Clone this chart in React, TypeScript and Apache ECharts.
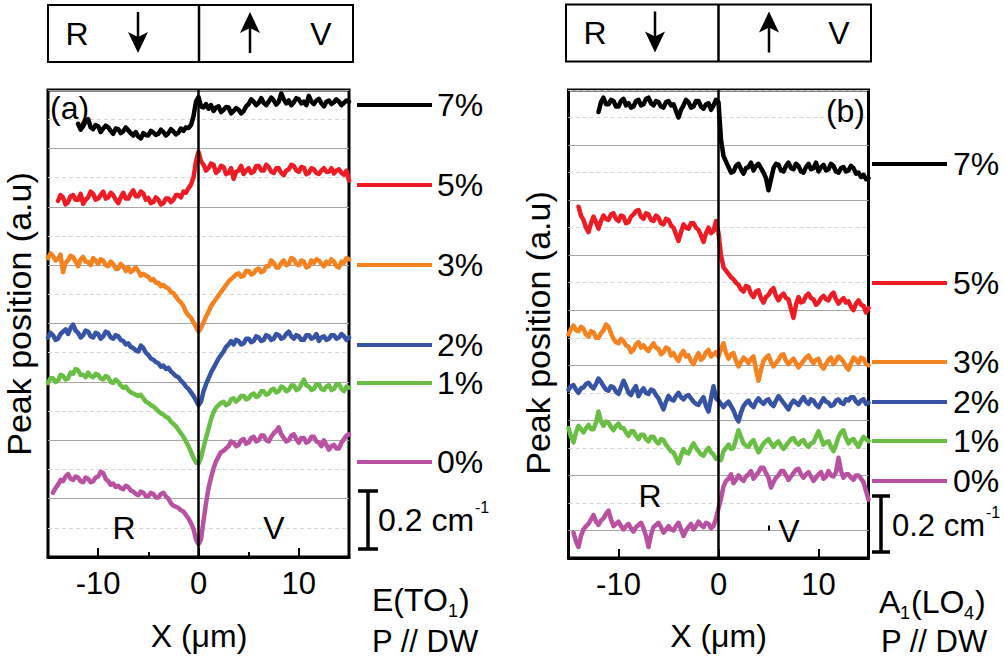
import React, { useEffect, useRef } from "react";
import * as echarts from "echarts";

// Position across the domain wall, micrometres (0.25 um steps)
const X_UM = [
  -15, -14.75, -14.5, -14.25, -14, -13.75, -13.5, -13.25, -13, -12.75, -12.5, -12.25,
  -12, -11.75, -11.5, -11.25, -11, -10.75, -10.5, -10.25, -10, -9.75, -9.5, -9.25,
  -9, -8.75, -8.5, -8.25, -8, -7.75, -7.5, -7.25, -7, -6.75, -6.5, -6.25,
  -6, -5.75, -5.5, -5.25, -5, -4.75, -4.5, -4.25, -4, -3.75, -3.5, -3.25,
  -3, -2.75, -2.5, -2.25, -2, -1.75, -1.5, -1.25, -1, -0.75, -0.5, -0.25,
  0, 0.25, 0.5, 0.75, 1, 1.25, 1.5, 1.75, 2, 2.25, 2.5, 2.75,
  3, 3.25, 3.5, 3.75, 4, 4.25, 4.5, 4.75, 5, 5.25, 5.5, 5.75,
  6, 6.25, 6.5, 6.75, 7, 7.25, 7.5, 7.75, 8, 8.25, 8.5, 8.75,
  9, 9.25, 9.5, 9.75, 10, 10.25, 10.5, 10.75, 11, 11.25, 11.5, 11.75,
  12, 12.25, 12.5, 12.75, 13, 13.25, 13.5, 13.75, 14, 14.25, 14.5, 14.75,
  15,
];

const LABELS = ["7%", "5%", "3%", "2%", "1%", "0%"];
const COLORS = ["#000000", "#ed1c24", "#f58220", "#3953a4", "#6abd45", "#b8519f"];
const TICKS_MAJOR = [-10, 0, 10];
const TICKS_MINOR = [-5, 5];

// Panel (a) E(TO1): peak position in grid units (1 unit = 0.2 cm-1)
const A_7 = [
  null, null, null, null, null, null, null, null, null, null, null, null,
  7.42, 7.32, 7.38, 7.46, 7.50, 7.36, 7.33, 7.40, 7.38, 7.28, 7.34, 7.39,
  7.36, 7.30, 7.25, 7.34, 7.33, 7.26, 7.29, 7.36, 7.31, 7.26, 7.22, 7.28,
  7.20, 7.17, 7.26, 7.23, 7.22, 7.30, 7.27, 7.23, 7.25, 7.32, 7.28, 7.22,
  7.26, 7.33, 7.29, 7.24, 7.27, 7.34, 7.30, 7.36, 7.35, 7.40, 7.55, 7.80,
  7.88, 7.72, 7.70, 7.76, 7.68, 7.74, 7.64, 7.70, 7.72, 7.62, 7.66, 7.71,
  7.70, 7.60, 7.64, 7.69, 7.66, 7.60, 7.64, 7.72, 7.76, 7.84, 7.80, 7.74,
  7.78, 7.86, 7.78, 7.74, 7.80, 7.87, 7.82, 7.75, 7.80, 7.94, 7.84, 7.77,
  7.82, 7.74, 7.79, 7.86, 7.84, 7.77, 7.80, 7.74, 7.90, 7.80, 7.76, 7.82,
  7.85, 7.77, 7.72, 7.80, 7.82, 7.76, 7.79, 7.84, 7.80, 7.74, 7.78, 7.82,
  7.80,
];
const A_5 = [
  null, null, null, null, 6.10, 6.20, 6.16, 6.04, 6.08, 6.18, 6.20, 6.12,
  6.12, 6.22, 6.05, 6.12, 6.16, 6.26, 6.22, 6.12, 6.14, 6.20, 6.26, 6.14,
  6.16, 6.24, 6.20, 6.12, 6.06, 6.16, 6.24, 6.14, 6.14, 6.22, 6.28, 6.18,
  6.18, 6.26, 6.23, 6.12, 6.15, 6.06, 6.08, 6.16, 6.12, 6.04, 6.06, 6.14,
  6.14, 6.08, 6.12, 6.20, 6.20, 6.16, 6.26, 6.24, 6.32, 6.38, 6.50, 6.78,
  6.94, 6.78, 6.72, 6.62, 6.66, 6.74, 6.72, 6.58, 6.62, 6.70, 6.68, 6.56,
  6.58, 6.66, 6.48, 6.60, 6.62, 6.70, 6.56, 6.62, 6.66, 6.58, 6.60, 6.70,
  6.70, 6.62, 6.62, 6.72, 6.68, 6.60, 6.58, 6.66, 6.66, 6.58, 6.54, 6.62,
  6.64, 6.72, 6.70, 6.62, 6.60, 6.68, 6.67, 6.56, 6.58, 6.66, 6.64, 6.58,
  6.56, 6.62, 6.66, 6.60, 6.60, 6.66, 6.57, 6.62, 6.64, 6.58, 6.55, 6.62,
  6.45,
];
const A_3 = [
  5.12, 5.20, 5.16, 5.08, 5.10, 5.18, 4.88, 5.04, 5.08, 5.16, 5.14, 5.06,
  4.98, 5.10, 5.14, 5.06, 5.05, 5.00, 5.12, 5.08, 5.02, 5.10, 5.08, 5.00,
  4.98, 5.06, 5.02, 4.94, 4.94, 5.02, 4.98, 4.90, 4.96, 4.88, 4.92, 4.96,
  4.90, 4.82, 4.85, 4.82, 4.80, 4.74, 4.76, 4.70, 4.70, 4.64, 4.66, 4.62,
  4.60, 4.54, 4.52, 4.46, 4.40, 4.36, 4.30, 4.20, 4.14, 4.10, 4.02, 3.94,
  3.86, 3.92, 4.02, 4.12, 4.20, 4.30, 4.36, 4.42, 4.48, 4.54, 4.60, 4.66,
  4.72, 4.76, 4.80, 4.84, 4.86, 4.80, 4.82, 4.90, 4.90, 4.84, 4.86, 4.92,
  4.94, 4.88, 4.90, 4.98, 4.98, 5.08, 5.04, 4.96, 4.96, 5.04, 5.08, 5.00,
  5.02, 5.12, 5.10, 5.02, 5.00, 5.08, 5.06, 4.96, 4.98, 5.08, 5.04, 5.10,
  5.08, 5.02, 4.98, 5.06, 5.02, 5.10, 5.06, 4.98, 4.96, 5.06, 5.04, 5.12,
  5.10,
];
const A_2 = [
  3.76, 3.84, 3.80, 3.72, 3.74, 3.82, 3.86, 3.90, 3.82, 3.92, 3.98, 3.88,
  3.84, 3.76, 3.80, 3.88, 3.86, 3.78, 3.76, 3.84, 3.82, 3.74, 3.78, 3.86,
  3.84, 3.76, 3.74, 3.80, 3.78, 3.72, 3.70, 3.64, 3.66, 3.60, 3.58, 3.54,
  3.52, 3.62, 3.58, 3.50, 3.46, 3.40, 3.38, 3.34, 3.32, 3.26, 3.28, 3.22,
  3.24, 3.18, 3.14, 3.10, 3.08, 3.02, 2.98, 2.92, 2.88, 2.82, 2.76, 2.68,
  2.60, 2.66, 2.84, 2.96, 3.06, 3.16, 3.24, 3.32, 3.40, 3.46, 3.52, 3.60,
  3.64, 3.70, 3.64, 3.72, 3.70, 3.64, 3.66, 3.74, 3.74, 3.68, 3.70, 3.78,
  3.76, 3.70, 3.72, 3.80, 3.78, 3.72, 3.74, 3.82, 3.80, 3.74, 3.76, 3.82,
  3.86, 3.78, 3.74, 3.80, 3.78, 3.72, 3.72, 3.80, 3.80, 3.74, 3.76, 3.82,
  3.70, 3.76, 3.78, 3.72, 3.74, 3.80, 3.80, 3.74, 3.76, 3.82, 3.78, 3.72,
  3.76,
];
const A_1 = [
  2.98, 3.06, 3.06, 3.00, 3.02, 3.12, 3.10, 3.04, 3.06, 3.16, 3.14, 3.22,
  3.20, 3.12, 3.12, 3.08, 3.16, 3.10, 3.08, 3.14, 3.12, 3.06, 3.04, 3.10,
  3.08, 3.00, 2.98, 3.04, 3.00, 2.94, 2.90, 2.92, 2.86, 2.82, 2.80, 2.78,
  2.76, 2.78, 2.72, 2.66, 2.64, 2.60, 2.58, 2.54, 2.50, 2.46, 2.44, 2.40,
  2.38, 2.32, 2.28, 2.24, 2.18, 2.12, 2.06, 1.98, 1.90, 1.80, 1.70, 1.62,
  1.60, 1.70, 1.88, 2.04, 2.20, 2.36, 2.48, 2.56, 2.60, 2.64, 2.66, 2.60,
  2.62, 2.70, 2.72, 2.66, 2.70, 2.76, 2.76, 2.70, 2.72, 2.78, 2.80, 2.74,
  2.76, 2.84, 2.84, 2.78, 2.80, 2.86, 2.88, 2.82, 2.84, 2.92, 2.90, 2.84,
  2.86, 2.94, 2.94, 2.86, 2.88, 2.96, 3.04, 2.94, 2.92, 2.86, 2.88, 2.96,
  2.96, 2.88, 2.86, 2.92, 2.94, 2.86, 2.88, 2.96, 2.96, 2.88, 2.84, 2.92,
  2.90,
];
const A_0 = [
  null, null, 1.10, 1.18, 1.24, 1.32, 1.30, 1.38, 1.42, 1.34, 1.32, 1.38,
  1.36, 1.30, 1.28, 1.36, 1.34, 1.28, 1.30, 1.36, 1.38, 1.46, 1.44, 1.34,
  1.30, 1.24, 1.26, 1.20, 1.22, 1.18, 1.16, 1.22, 1.20, 1.14, 1.12, 1.08,
  1.06, 1.12, 1.10, 1.04, 1.04, 1.10, 1.08, 1.02, 1.02, 1.08, 1.10, 1.04,
  1.00, 0.92, 0.88, 0.86, 0.84, 0.80, 0.78, 0.72, 0.66, 0.58, 0.48, 0.30,
  0.22, 0.30, 0.62, 0.92, 1.18, 1.36, 1.52, 1.64, 1.72, 1.80, 1.82, 1.86,
  1.90, 1.98, 1.96, 1.90, 1.92, 2.00, 2.02, 1.94, 1.96, 2.04, 2.06, 1.98,
  2.00, 2.08, 2.08, 2.00, 1.98, 2.06, 2.12, 2.16, 2.22, 2.10, 2.04, 1.98,
  2.00, 2.08, 2.10, 2.02, 1.96, 2.04, 2.04, 1.96, 1.98, 2.06, 2.06, 1.98,
  1.96, 1.90, 2.00, 1.92, 1.84, 1.90, 1.92, 1.86, 1.86, 1.96, 2.02, 2.08,
  2.10,
];

// Panel (b) A1(LO4)
const B_7 = [
  null, null, null, null, null, null, null, null, null, null, null, null,
  7.60, 7.78, 7.86, 7.74, 7.74, 7.82, 7.80, 7.70, 7.70, 7.80, 7.84, 7.72,
  7.76, 7.68, 7.70, 7.80, 7.82, 7.72, 7.74, 7.84, 7.86, 7.76, 7.72, 7.80,
  7.78, 7.70, 7.68, 7.78, 7.80, 7.72, 7.74, 7.62, 7.50, 7.64, 7.72, 7.82,
  7.78, 7.68, 7.70, 7.80, 7.80, 7.70, 7.66, 7.74, 7.76, 7.64, 7.72, 7.82,
  7.78, 7.10, 6.80, 6.70, 6.60, 6.50, 6.52, 6.62, 6.66, 6.56, 6.48, 6.58,
  6.60, 6.68, 6.54, 6.62, 6.66, 6.58, 6.50, 6.40, 6.18, 6.38, 6.58, 6.66,
  6.64, 6.54, 6.52, 6.62, 6.68, 6.58, 6.56, 6.66, 6.62, 6.52, 6.50, 6.60,
  6.66, 6.56, 6.58, 6.68, 6.52, 6.60, 6.64, 6.54, 6.56, 6.66, 6.62, 6.52,
  6.50, 6.58, 6.60, 6.52, 6.54, 6.62, 6.58, 6.48, 6.50, 6.42, 6.46, 6.38,
  6.40,
];
const B_5 = [
  null, null, null, null, 5.88, 5.72, 5.64, 5.50, 5.42, 5.58, 5.70, 5.60,
  5.48, 5.62, 5.72, 5.66, 5.64, 5.74, 5.76, 5.66, 5.62, 5.72, 5.70, 5.58,
  5.60, 5.70, 5.74, 5.80, 5.82, 5.70, 5.66, 5.76, 5.74, 5.64, 5.62, 5.72,
  5.68, 5.58, 5.56, 5.66, 5.64, 5.54, 5.50, 5.38, 5.26, 5.42, 5.56, 5.50,
  5.48, 5.58, 5.58, 5.50, 5.46, 5.36, 5.24, 5.40, 5.50, 5.40, 5.44, 5.62,
  5.40, 5.00, 4.78, 4.72, 4.66, 4.60, 4.56, 4.50, 4.46, 4.38, 4.34, 4.44,
  4.42, 4.30, 4.24, 4.34, 4.36, 4.22, 4.14, 4.24, 4.28, 4.36, 4.40, 4.26,
  4.18, 4.26, 4.30, 4.22, 4.20, 4.02, 3.86, 4.10, 4.24, 4.14, 4.16, 4.26,
  4.30, 4.22, 4.20, 4.10, 4.14, 4.22, 4.26, 4.20, 4.18, 4.28, 4.32, 4.20,
  4.12, 4.18, 4.22, 4.14, 4.16, 4.06, 4.00, 4.12, 4.18, 4.10, 4.08, 3.96,
  4.04,
];
const B_3 = [
  3.56, 3.66, 3.72, 3.64, 3.62, 3.70, 3.66, 3.56, 3.52, 3.62, 3.60, 3.50,
  3.50, 3.58, 3.64, 3.74, 3.70, 3.58, 3.48, 3.42, 3.40, 3.48, 3.44, 3.36,
  3.34, 3.24, 3.28, 3.38, 3.42, 3.32, 3.36, 3.30, 3.26, 3.34, 3.40, 3.32,
  3.30, 3.20, 3.24, 3.32, 3.30, 3.18, 3.22, 3.14, 3.08, 3.20, 3.26, 3.16,
  3.18, 3.08, 3.02, 3.14, 3.22, 3.10, 3.14, 3.24, 3.28, 3.16, 3.20, 3.24,
  3.16, 3.30, 3.40, 3.22, 3.12, 3.20, 3.22, 3.08, 2.98, 3.06, 3.14, 3.10,
  3.04, 3.12, 3.16, 2.92, 2.72, 2.92, 3.08, 3.14, 3.18, 3.06, 2.98, 3.04,
  3.10, 3.18, 3.20, 3.08, 3.02, 3.08, 3.12, 3.04, 2.96, 3.02, 3.08, 3.14,
  3.18, 3.10, 3.04, 3.10, 3.12, 3.00, 2.94, 3.02, 3.10, 3.14, 3.02, 3.08,
  3.16, 3.12, 3.06, 2.98, 2.92, 3.04, 3.14, 3.10, 3.04, 3.14, 3.12, 3.02,
  3.00,
];
const B_2 = [
  2.56, 2.62, 2.64, 2.56, 2.50, 2.58, 2.60, 2.66, 2.68, 2.62, 2.58, 2.66,
  2.76, 2.70, 2.62, 2.56, 2.54, 2.62, 2.60, 2.52, 2.48, 2.60, 2.72, 2.62,
  2.50, 2.46, 2.56, 2.62, 2.44, 2.52, 2.58, 2.50, 2.48, 2.56, 2.54, 2.46,
  2.40, 2.30, 2.20, 2.34, 2.44, 2.38, 2.36, 2.44, 2.50, 2.42, 2.38, 2.44,
  2.46, 2.40, 2.34, 2.30, 2.28, 2.36, 2.42, 2.26, 2.16, 2.40, 2.62, 2.40,
  2.36, 2.30, 2.24, 2.30, 2.34, 2.26, 2.18, 2.06, 1.98, 2.14, 2.26, 2.32,
  2.36, 2.28, 2.24, 2.34, 2.40, 2.34, 2.30, 2.36, 2.38, 2.30, 2.26, 2.36,
  2.44, 2.38, 2.32, 2.26, 2.20, 2.30, 2.36, 2.32, 2.28, 2.36, 2.42, 2.34,
  2.30, 2.38, 2.36, 2.28, 2.24, 2.32, 2.40, 2.34, 2.32, 2.26, 2.28, 2.36,
  2.38, 2.32, 2.30, 2.38, 2.36, 2.42, 2.42, 2.34, 2.30, 2.36, 2.38, 2.30,
  2.32,
];
const B_1 = [
  1.86, 1.70, 1.60, 1.78, 1.90, 1.84, 1.78, 1.86, 1.92, 1.84, 1.84, 1.96,
  2.16, 1.98, 1.90, 1.98, 1.96, 1.88, 1.82, 1.90, 1.94, 1.86, 1.86, 1.78,
  1.72, 1.80, 1.80, 1.72, 1.66, 1.74, 1.74, 1.66, 1.62, 1.70, 1.70, 1.62,
  1.58, 1.66, 1.64, 1.56, 1.50, 1.44, 1.42, 1.32, 1.22, 1.36, 1.48, 1.42,
  1.40, 1.50, 1.58, 1.50, 1.44, 1.38, 1.36, 1.44, 1.50, 1.42, 1.38, 1.30,
  1.32, 1.28, 1.44, 1.50, 1.56, 1.48, 1.50, 1.66, 1.82, 1.70, 1.58, 1.54,
  1.52, 1.60, 1.64, 1.52, 1.42, 1.50, 1.58, 1.62, 1.66, 1.58, 1.52, 1.58,
  1.62, 1.54, 1.48, 1.54, 1.60, 1.66, 1.68, 1.60, 1.56, 1.62, 1.64, 1.56,
  1.52, 1.58, 1.60, 1.70, 1.80, 1.68, 1.56, 1.60, 1.62, 1.52, 1.44, 1.56,
  1.70, 1.78, 1.82, 1.68, 1.58, 1.64, 1.66, 1.58, 1.52, 1.62, 1.70, 1.66,
  1.62,
];
const B_0 = [
  null, null, -0.04, -0.20, -0.30, -0.10, 0.02, 0.08, 0.12, 0.20, 0.28, 0.16,
  0.10, 0.18, 0.22, 0.30, 0.36, 0.20, 0.08, 0.12, 0.16, 0.08, 0.02, 0.08,
  0.12, 0.04, -0.02, 0.06, 0.10, 0.14, 0.04, -0.10, -0.30, -0.08, 0.06, 0.10,
  0.14, 0.06, -0.04, 0.02, 0.08, 0.02, 0.00, 0.08, 0.14, 0.02, -0.10, 0.00,
  0.06, 0.12, 0.02, 0.08, 0.16, 0.10, 0.06, 0.14, 0.12, 0.04, 0.08, 0.22,
  0.40, 0.58, 0.80, 0.90, 0.94, 1.02, 0.86, 0.92, 1.00, 0.94, 0.90, 0.98,
  1.02, 1.08, 0.94, 1.00, 1.06, 1.14, 1.14, 1.04, 0.96, 0.78, 0.88, 0.96,
  1.00, 1.08, 1.08, 1.00, 0.92, 0.98, 1.04, 1.10, 1.12, 1.02, 0.96, 1.02,
  1.06, 0.98, 0.90, 0.96, 1.02, 1.06, 0.94, 0.98, 1.08, 1.00, 0.98, 1.06,
  1.32, 1.08, 0.96, 1.02, 1.02, 0.96, 0.92, 1.00, 1.00, 0.94, 0.88, 0.72,
  0.56,
];

const PANEL_A = [A_7, A_5, A_3, A_2, A_1, A_0];
const PANEL_B = [B_7, B_5, B_3, B_2, B_1, B_0];

const FONT = '"Liberation Sans", Arial, Helvetica, sans-serif';
const FS = 32;

function toPairs(vals: (number | null)[]) {
  const out: [number, number][] = [];
  X_UM.forEach((x, i) => {
    const v = vals[i];
    if (v !== null && v !== undefined) out.push([x, v]);
  });
  return out;
}

function txt(x: number, y: number, text: string, size = FS, align = "left", extra: any = {}) {
  return {
    type: "text",
    x,
    y,
    z: 20,
    ...extra,
    style: { text, fontSize: size, fontFamily: FONT, fill: "#000", align, verticalAlign: "middle" },
  };
}

function seg(x1: number, y1: number, x2: number, y2: number, w: number, color = "#000") {
  return { type: "line", z: 20, shape: { x1, y1, x2, y2 }, style: { stroke: color, lineWidth: w } };
}

function header(left: number, top: number, w: number, h: number, div: number, rX: number, vX: number, dX: number, uX: number) {
  const cy = top + h / 2;
  return [
    { type: "rect", z: 20, shape: { x: left, y: top, width: w, height: h }, style: { fill: "none", stroke: "#000", lineWidth: 2 } },
    seg(div, top, div, top + h, 2.5),
    txt(rX, cy, "R", FS, "center"),
    txt(vX, cy, "V", FS, "center"),
    seg(dX, top + 7, dX, top + 34, 2.5),
    { type: "polygon", z: 20, shape: { points: [[dX - 10, top + 27], [dX, top + 32], [dX + 10, top + 27], [dX, top + 48]] }, style: { fill: "#000" } },
    seg(uX, top + 21, uX, top + 48, 2.5),
    { type: "polygon", z: 20, shape: { points: [[uX - 10, top + 28], [uX, top + 23], [uX + 10, top + 28], [uX, top + 7]] }, style: { fill: "#000" } },
  ];
}

function legend(x1: number, x2: number, tx: number, ys: number[]) {
  const els: any[] = [];
  ys.forEach((y, i) => {
    els.push(seg(x1, y, x2, y, 4, COLORS[i]));
    els.push(txt(tx, y, LABELS[i], FS, "left"));
  });
  return els;
}

function scaleBar(bx: number, top: number, bottom: number, capL: number, capR: number, tx: number, ty: number, fs: number) {
  const supX = tx + fs * 3.0 + 1;
  return [
    seg(bx, top, bx, bottom, 3.5),
    seg(capL, top, capR, top, 3.5),
    seg(capL, bottom, capR, bottom, 3.5),
    txt(tx, ty, "0.2 cm", fs, "left"),
    txt(supX, ty - 13, "-1", 16, "left"),
  ];
}

export default function App() {
  const ref = useRef<HTMLDivElement>(null);

  useEffect(() => {
    if (!ref.current) return;
    const chart = echarts.init(ref.current, null, { renderer: "svg" });

    const xAxisCommon = (gridIndex: number) => [
      {
        type: "value",
        gridIndex,
        position: "bottom",
        min: -15,
        max: 15,
        axisLine: { onZero: false, lineStyle: { color: "#000", width: 3 } },
        axisTick: { inside: true, length: 9, customValues: TICKS_MAJOR, lineStyle: { color: "#000", width: 2 } },
        axisLabel: { customValues: TICKS_MAJOR, fontSize: 31, fontFamily: FONT, color: "#000", margin: 11 },
        splitLine: { show: false },
      },
      {
        type: "value",
        gridIndex,
        position: "bottom",
        min: -15,
        max: 15,
        axisLine: { show: false },
        axisTick: { inside: true, length: 5, customValues: TICKS_MINOR, lineStyle: { color: "#000", width: 2 } },
        axisLabel: { show: false },
        splitLine: { show: false },
      },
    ];

    const hiddenParts = { axisLine: { show: false }, axisTick: { show: false }, axisLabel: { show: false } };
    const solidGrid = { show: true, lineStyle: { color: "#a6a6a6", width: 1.2 } };
    const dashedGrid = { show: true, lineStyle: { color: "#d6d6d6", width: 1, type: [4, 3] } };

    const makeSeries = (arrs: (number | null)[][], xi: number, yi: number) =>
      arrs.map((vals, i) => ({
        name: LABELS[i],
        type: "line",
        xAxisIndex: xi,
        yAxisIndex: yi,
        data: toPairs(vals),
        symbol: "none",
        z: 3,
        lineStyle: { color: COLORS[i], width: 4.5, cap: "round", join: "round" },
      }));

    const zeroLine = (xi: number, yi: number) => ({
      type: "line",
      xAxisIndex: xi,
      yAxisIndex: yi,
      data: [],
      z: 10,
      markLine: {
        silent: true,
        symbol: "none",
        label: { show: false },
        lineStyle: { color: "#000", width: 2.5, type: "solid" },
        data: [{ xAxis: 0 }],
      },
    });

    const option: any = {
      animation: false,
      backgroundColor: "#fff",
      grid: [
        { left: 48, top: 90, width: 301, height: 467, show: true, borderColor: "#000", borderWidth: 3, backgroundColor: "transparent" },
        { left: 568.5, top: 90, width: 300, height: 468, show: true, borderColor: "#000", borderWidth: 3, backgroundColor: "transparent" },
      ],
      xAxis: [...xAxisCommon(0), ...xAxisCommon(1)],
      yAxis: [
        {
          type: "value",
          gridIndex: 0,
          min: 0,
          max: 8,
          interval: 1,
          ...hiddenParts,
          splitLine: solidGrid,
          minorTick: { show: false, splitNumber: 2 },
          minorSplitLine: dashedGrid,
        },
        { type: "value", gridIndex: 1, min: -0.5, max: 8, show: false },
        { type: "value", gridIndex: 1, min: 0, max: 8.5, interval: 1, inverse: true, ...hiddenParts, splitLine: solidGrid },
        { type: "value", gridIndex: 1, min: 0, max: 8.5, interval: 1, ...hiddenParts, splitLine: dashedGrid },
      ],
      series: [
        ...makeSeries(PANEL_A, 0, 0),
        ...makeSeries(PANEL_B, 2, 1),
        zeroLine(0, 0),
        zeroLine(2, 1),
      ],
      graphic: {
        elements: [
          ...header(48, 5, 305, 57, 199, 77, 321, 138, 250),
          ...header(566, 4.5, 305, 57, 718.5, 595, 839, 655, 769),
          txt(50, 108, "(a)", FS, "left"),
          txt(865, 111, "(b)", FS, "right"),
          txt(124, 528, "R", FS, "center"),
          txt(274, 528, "V", FS, "center"),
          txt(650, 496, "R", FS, "center"),
          txt(789, 531, "V", FS, "center"),
          ...legend(357, 432, 437, [105, 185, 265, 345, 383, 462]),
          ...legend(872, 947, 953, [164, 283, 362, 402, 441, 481]),
          ...scaleBar(368, 491, 549, 358, 378, 378, 520, 32),
          ...scaleBar(881, 496, 552, 872, 890, 892, 525, 31),
          txt(372, 600, "E(TO", FS, "left"),
          txt(448, 611, "1", 18, "left"),
          txt(459, 600, ")", FS, "left"),
          txt(879, 602, "A", FS, "left"),
          txt(900, 613, "1", 18, "left"),
          txt(911, 602, "(LO", FS, "left"),
          txt(964, 613, "4", 18, "left"),
          txt(975, 602, ")", FS, "left"),
          txt(372, 641, "P // DW", 31, "left"),
          txt(881, 641, "P // DW", 31, "left"),
          txt(199, 636, "X (μm)", FS, "center"),
          txt(718.5, 636, "X (μm)", FS, "center"),
          txt(19, 314, "Peak position (a.u)", 34, "center", { rotation: Math.PI / 2 }),
          txt(538, 333, "Peak position (a.u)", 34, "center", { rotation: Math.PI / 2 }),
        ],
      },
    };

    chart.setOption(option);
    return () => chart.dispose();
  }, []);

  return (
    <div
      ref={ref}
      style={{ position: "absolute", left: 0, top: 0, width: 1004, height: 659, background: "#fff" }}
    />
  );
}
